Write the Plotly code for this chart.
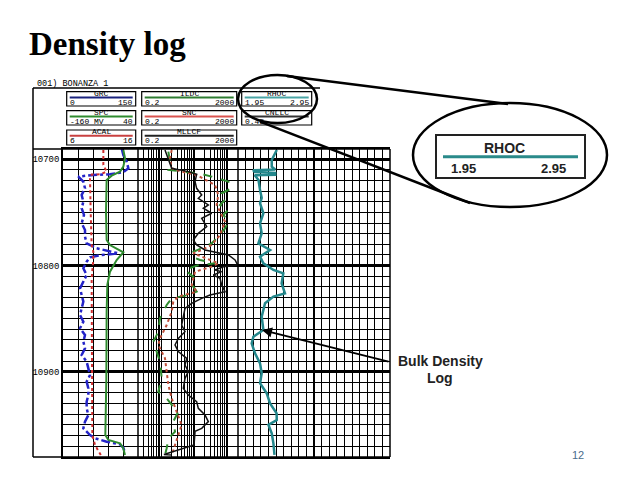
import math
import plotly.graph_objects as go

W, H = 638, 479

# ---- curve data (depth in ft) ----
grc_depth = [10689.6, 10695.9, 10702.2, 10708.5, 10712.2, 10714.1, 10714.7, 10716.3, 10721.0, 10727.3,
             10733.6, 10739.9, 10746.1, 10752.4, 10760.3, 10766.5, 10772.8, 10779.1, 10783.8, 10786.3,
             10788.5, 10790.1, 10792.3, 10796.4, 10802.6, 10808.9, 10815.2, 10821.5, 10827.8, 10834.0,
             10840.3, 10846.6, 10852.9, 10859.1, 10865.4, 10871.7, 10878.0, 10884.3, 10890.5, 10896.8,
             10903.1, 10909.4, 10915.7, 10921.9, 10928.2, 10934.5, 10940.8, 10947.0, 10953.3, 10959.6,
             10962.7, 10965.9, 10968.4, 10971.5, 10976.9]
grc = [117.3, 120.7, 127.3, 130.7, 120.7, 94, 60.7, 30.7, 40.7, 44,
       37.3, 40.7, 37.3, 42, 37.3, 44, 44, 47.3, 67.3, 94,
       110.7, 77.3, 54, 47.3, 40.7, 47.3, 40.7, 34, 37.3, 40.7,
       37.3, 34, 40.7, 34, 44, 40.7, 44, 37.3, 47.3, 50.7,
       54, 47.3, 50.7, 50.7, 47.3, 47.3, 50.7, 44, 40.7, 54,
       64, 87.3, 114, 120.7, 124]

acal_depth = [10691.2, 10705.3, 10711.6, 10714.1, 10714.4, 10717.9, 10749.3, 10780.7, 10787.0, 10794.8,
              10812.1, 10843.5, 10874.8, 10906.2, 10937.6, 10959.6, 10969.0, 10975.3, 10980.0]
acal = [11.38, 11.38, 11.82, 10.93, 9.82, 9.6, 9.69, 9.82, 10.04, 10.04,
        9.82, 9.82, 9.82, 9.87, 9.87, 9.91, 10.27, 10.84, 11.16]

spc_depth = [10691.2, 10699.1, 10706.9, 10711.6, 10715.4, 10719.5, 10749.3, 10776.0, 10780.7, 10785.4,
             10787.6, 10794.8, 10805.8, 10818.3, 10843.5, 10906.2, 10937.6, 10959.6, 10964.3, 10967.4,
             10972.1, 10978.4]
spc = [0.9, 5.3, 0.9, -8, -30.2, -43.6, -45.3, -43.6, -34.7, -8,
       0.9, -16.9, -34.7, -41.8, -43.6, -44.4, -45.3, -47.1, -39.1, -8,
       0.9, 5.3]

ildc_depth = [10692.8, 10702.2, 10710.0, 10713.2, 10716.3, 10721.0, 10727.3, 10732.0, 10736.7, 10743.0,
              10747.7, 10752.4, 10758.7, 10765.0, 10772.8, 10779.1, 10783.8, 10787.0, 10791.7, 10794.8,
              10797.9, 10800.1, 10804.2, 10810.5, 10815.2, 10824.6, 10827.8, 10830.9, 10837.2, 10843.5,
              10849.7, 10862.3, 10871.7, 10881.1, 10890.5, 10906.2, 10918.8, 10925.1, 10931.3, 10937.6,
              10947.0, 10956.5, 10962.7, 10972.1, 10978.4]
ildc = [1.63, 1.82, 1.63, 12.9, 32.4, 103, 129, 64.7, 91.4, 57.7,
        103, 72.6, 103, 81.5, 51.4, 32.4, 16.3, 9.14, 8.15, 14.5,
        40.8, 11.5, 5.14, 9.14, 7.26, 11.5, 6.47, 2.05, 1.45, 1.15,
        0.914, 0.815, 0.577, 0.726, 0.914, 1.03, 0.815, 1.45, 2.05, 3.24,
        2.29, 2.58, 1.63, 1.45, 1.29]

snc_depth = [10691.2, 10699.1, 10708.5, 10711.6, 10714.8, 10724.2, 10733.6, 10743.0, 10758.7, 10771.3,
             10780.7, 10785.4, 10788.5, 10793.2, 10797.9, 10801.1, 10805.8, 10818.3, 10824.6, 10829.3,
             10834.0, 10843.5, 10856.0, 10868.6, 10874.8, 10887.4, 10899.9, 10912.5, 10925.1, 10937.6,
             10950.2, 10959.6, 10969.0, 10978.4]
snc = [2.05, 1.82, 2.05, 4.08, 11.5, 40.8, 51.4, 45.8, 81.5, 57.7,
       32.4, 16.3, 9.14, 23.0, 51.4, 32.4, 10.3, 8.15, 11.5, 3.24,
       2.29, 2.05, 1.45, 0.914, 0.815, 1.29, 1.45, 1.63, 2.05, 2.89,
       4.08, 3.24, 2.58, 2.05]

mllcf_depth = [10691.2, 10699.1, 10708.5, 10711.6, 10714.1, 10721.0, 10727.3, 10733.6, 10736.7, 10743.0,
               10746.1, 10750.8, 10755.6, 10763.4, 10769.7, 10776.0, 10780.7, 10785.4, 10790.1, 10794.8,
               10799.5, 10801.1, 10804.2, 10805.8, 10808.9, 10812.1, 10818.3, 10824.6, 10826.2, 10827.8,
               10830.9, 10835.6, 10840.3, 10849.7, 10856.0, 10862.3, 10868.6, 10874.8, 10881.1, 10887.4,
               10893.7, 10899.9, 10906.2, 10915.7, 10921.9, 10928.2, 10934.5, 10940.8, 10947.0, 10953.3,
               10956.0, 10969.0, 10972.0, 10978.0, 10978.4]
mllcf = [1.29, 1.63, 2.05, 6.47, 11.5, 10.3, 11.5, 16.3, 12.9, 25.8,
         18.2, 32.4, 16.3, 23.0, 12.9, 9.14, 11.5, 20.5, 103, 163,
         195, 72.6, 40.8, 64.7, 36.4, 57.7, 64.7, 81.5, 51.4, 28.9,
         16.3, 8.15, 5.14, 4.58, 4.08, 5.14, 3.24, 2.58, 3.24, 5.77,
         5.14, 6.47, 5.14, 4.58, 6.47, 11.5, 12.9, 20.5, 25.8, 16.3,
         10.3, 9.6, 5.0, 1.2, 2.05]

rhoc_depth = [10691.2, 10700.7, 10707.0, 10709.5, 10710.3, 10712.0, 10712.8, 10714.5, 10715.0, 10719.5,
              10728.9, 10736.4, 10741.4, 10750.8, 10760.3, 10769.7, 10779.1, 10785.4, 10791.6, 10797.9,
              10804.2, 10807.3, 10816.8, 10826.2, 10829.3, 10835.6, 10848.2, 10860.7, 10867.0, 10873.3,
              10882.7, 10892.1, 10901.5, 10910.9, 10920.4, 10929.8, 10939.2, 10945.5, 10950.0, 10958.0,
              10967.4, 10978.4]
rhoc = [2.205, 2.172, 2.172, 2.195, 2.05, 2.06, 2.195, 2.195, 2.06, 2.085,
        2.095, 2.106, 2.095, 2.117, 2.095, 2.106, 2.084, 2.161, 2.095, 2.117,
        2.183, 2.248, 2.237, 2.259, 2.183, 2.128, 2.106, 2.117, 2.051, 2.040,
        2.062, 2.095, 2.106, 2.095, 2.139, 2.161, 2.204, 2.205, 2.15, 2.172,
        2.183, 2.19]

# header legend: name, left value, right value, colour, column, row
legend_items = [
    ("GRC", "0", "150", "#1a237e", 0, 0),
    ("ILDC", "0.2", "2000", "#2e7d32", 1, 0),
    ("RHOC", "1.95", "2.95", "#4aa5a5", 2, 0),
    ("SPC", "-160 MV", "40", "#2e8b2e", 0, 1),
    ("SNC", "0.2", "2000", "#d9534f", 1, 1),
    ("CNLLC", "0.45", "", "#333333", 2, 1),
    ("ACAL", "6", "16", "#c84040", 0, 2),
    ("MLLCF", "0.2", "2000", "#222222", 1, 2),
]
cols = [(66.7, 135.7), (141.7, 236.7), (241.7, 311.7)]
rows = [(91.7, 106), (110.7, 125), (130, 145)]


def px(x):
    return x / W


def py(y):
    return 1 - y / H


fig = go.Figure()

curves = [
    (grc, grc_depth, "x", dict(color="#2323c8", width=2.5, dash="dashdot")),
    (spc, spc_depth, "x2", dict(color="#2e8b2e", width=2)),
    (acal, acal_depth, "x3", dict(color="#d03030", width=2, dash="dot")),
    (ildc, ildc_depth, "x4", dict(color="#2e8b2e", width=2, dash="dash")),
    (snc, snc_depth, "x4", dict(color="#c0503a", width=2, dash="dot")),
    (mllcf, mllcf_depth, "x4", dict(color="#111111", width=1.5)),
    (rhoc, rhoc_depth, "x5", dict(color="#23878c", width=2.5)),
]
for vals, dep, xa, ln in curves:
    fig.add_trace(go.Scatter(x=vals, y=dep, xaxis=xa, yaxis="y", mode="lines",
                             line=ln, showlegend=False, hoverinfo="skip"))

t1 = [px(63), px(138)]
t2 = [px(138), px(238)]
t3 = [px(238), px(390)]
grid = dict(showgrid=True, gridcolor="black", gridwidth=1, showticklabels=False, ticks="",
            zeroline=False, showline=True, linecolor="black", linewidth=1.5, mirror=True,
            anchor="y", fixedrange=True)
hidden = dict(visible=False, showgrid=False, zeroline=False, fixedrange=True)

fig.update_layout(
    width=W, height=H,
    margin=dict(l=0, r=0, t=0, b=0),
    paper_bgcolor="white", plot_bgcolor="white",
    showlegend=False,
    xaxis=dict(domain=t1, range=[0, 150], tick0=0, dtick=30, **grid),
    xaxis2=dict(domain=t1, range=[-160, 40], overlaying="x", anchor="y", **hidden),
    xaxis3=dict(domain=t1, range=[6, 16], overlaying="x", anchor="y", **hidden),
    xaxis4=dict(domain=t2, type="log", range=[math.log10(0.2), math.log10(200)], dtick="D1", **grid),
    xaxis5=dict(domain=t3, range=[1.95, 2.95], tick0=1.95, dtick=0.5,
                minor=dict(dtick=0.05, showgrid=True, gridcolor="black", gridwidth=1),
                **{**grid, "gridwidth": 2}),
    yaxis=dict(domain=[py(457), py(149)], range=[10980.3, 10690.3], tick0=10700, dtick=100,
               showgrid=True, gridcolor="black", gridwidth=2.5,
               minor=dict(tick0=10700, dtick=10, showgrid=True, gridcolor="black", gridwidth=1),
               tickformat="d", ticks="", tickfont=dict(family="Liberation Mono", size=9, color="black"),
               zeroline=False, showline=True, linecolor="black", linewidth=1.5, fixedrange=True),
)

shapes = []
black = dict(color="black", width=1.5)
# outer frame of the log print
shapes.append(dict(type="line", xref="paper", yref="paper", x0=px(33), x1=px(33), y0=py(88), y1=py(457), line=black))
shapes.append(dict(type="line", xref="paper", yref="paper", x0=px(33), x1=px(320), y0=py(88), y1=py(88), line=black))
shapes.append(dict(type="line", xref="paper", yref="paper", x0=px(33), x1=px(390), y0=py(457), y1=py(457), line=black))
shapes.append(dict(type="line", xref="paper", yref="paper", x0=px(33), x1=px(390), y0=py(149), y1=py(149), line=black))
for xb in (138, 238, 390):
    shapes.append(dict(type="line", xref="paper", yref="paper", x0=px(xb), x1=px(xb), y0=py(149), y1=py(457), line=black))

annotations = []
hfont = dict(family="Liberation Mono", size=8, color="black")
for name, lo, hi, colr, ci, ri in legend_items:
    x0, x1 = cols[ci]
    y0, y1 = rows[ri]
    shapes.append(dict(type="rect", xref="paper", yref="paper", x0=px(x0), x1=px(x1), y0=py(y1), y1=py(y0),
                       line=dict(color="black", width=1.2)))
    shapes.append(dict(type="line", xref="paper", yref="paper", x0=px(x0 + 3), x1=px(x1 - 3),
                       y0=py(y0 + 5.8), y1=py(y0 + 5.8), line=dict(color=colr, width=2)))
    annotations.append(dict(text=name, x=px((x0 + x1) / 2), y=py(y0 + 1.8), xref="paper", yref="paper",
                            showarrow=False, font=hfont, xanchor="center", yanchor="middle", borderpad=0))
    annotations.append(dict(text=lo, x=px(x0 + 2), y=py(y0 + 10.8), xref="paper", yref="paper",
                            showarrow=False, font=hfont, xanchor="left", yanchor="middle", borderpad=0))
    if hi:
        annotations.append(dict(text=hi, x=px(x1 - 2), y=py(y0 + 10.8), xref="paper", yref="paper",
                                showarrow=False, font=hfont, xanchor="right", yanchor="middle", borderpad=0))

# callout ellipses and connecting lines
thick = dict(color="black", width=2.5)
shapes.append(dict(type="circle", xref="paper", yref="paper", x0=px(238), x1=px(317), y0=py(123), y1=py(75), line=thick))
shapes.append(dict(type="circle", xref="paper", yref="paper", x0=px(413), x1=px(607), y0=py(207), y1=py(103), line=thick))
shapes.append(dict(type="line", xref="paper", yref="paper", x0=px(287), x1=px(508), y0=py(76), y1=py(104), line=thick))
shapes.append(dict(type="line", xref="paper", yref="paper", x0=px(260), x1=px(470), y0=py(121.7), y1=py(203), line=thick))
shapes.append(dict(type="rect", xref="paper", yref="paper", x0=px(436), x1=px(585), y0=py(178), y1=py(135),
                   line=dict(color="#222222", width=2), fillcolor="white"))
shapes.append(dict(type="line", xref="paper", yref="paper", x0=px(443), x1=px(578), y0=py(156.7), y1=py(156.7),
                   line=dict(color="#2a8a8a", width=3)))

bold = dict(family="Liberation Sans", size=13, color="#222222")
annotations += [
    dict(text="<b>Density log</b>", x=px(27), y=py(44), xref="paper", yref="paper", showarrow=False,
         xanchor="left", yanchor="middle", font=dict(family="Liberation Serif", size=33, color="black")),
    dict(text="001) BONANZA 1", x=px(35), y=py(84), xref="paper", yref="paper", showarrow=False,
         xanchor="left", yanchor="middle", font={**hfont, "size": 8.5}),
    dict(text="<b>RHOC</b>", x=px(504), y=py(148), xref="paper", yref="paper", showarrow=False,
         xanchor="center", yanchor="middle", font={**bold, "size": 14}),
    dict(text="<b>1.95</b>", x=px(463), y=py(168), xref="paper", yref="paper", showarrow=False,
         xanchor="center", yanchor="middle", font=bold),
    dict(text="<b>2.95</b>", x=px(553), y=py(168), xref="paper", yref="paper", showarrow=False,
         xanchor="center", yanchor="middle", font=bold),
    dict(text="<b>Bulk Density</b>", x=px(440), y=py(361), xref="paper", yref="paper", showarrow=False,
         xanchor="center", yanchor="middle", font={**bold, "size": 14}),
    dict(text="<b>Log</b>", x=px(440), y=py(378), xref="paper", yref="paper", showarrow=False,
         xanchor="center", yanchor="middle", font={**bold, "size": 14}),
    dict(text="12", x=px(578), y=py(455), xref="paper", yref="paper", showarrow=False,
         xanchor="center", yanchor="middle", font=dict(family="Liberation Sans", size=11, color="#4a6d8c")),
    dict(text="", x=px(262), y=py(330), xref="paper", yref="paper", showarrow=True, ax=128, ay=32,
         arrowhead=2, arrowsize=1, arrowwidth=2, arrowcolor="black"),
]

fig.update_layout(shapes=shapes, annotations=annotations)

# the page's default 8px body margin would shift the whole slide
fig.write_html("out.html", config={"displayModeBar": False},
               post_script="document.body.style.margin = '0';")
